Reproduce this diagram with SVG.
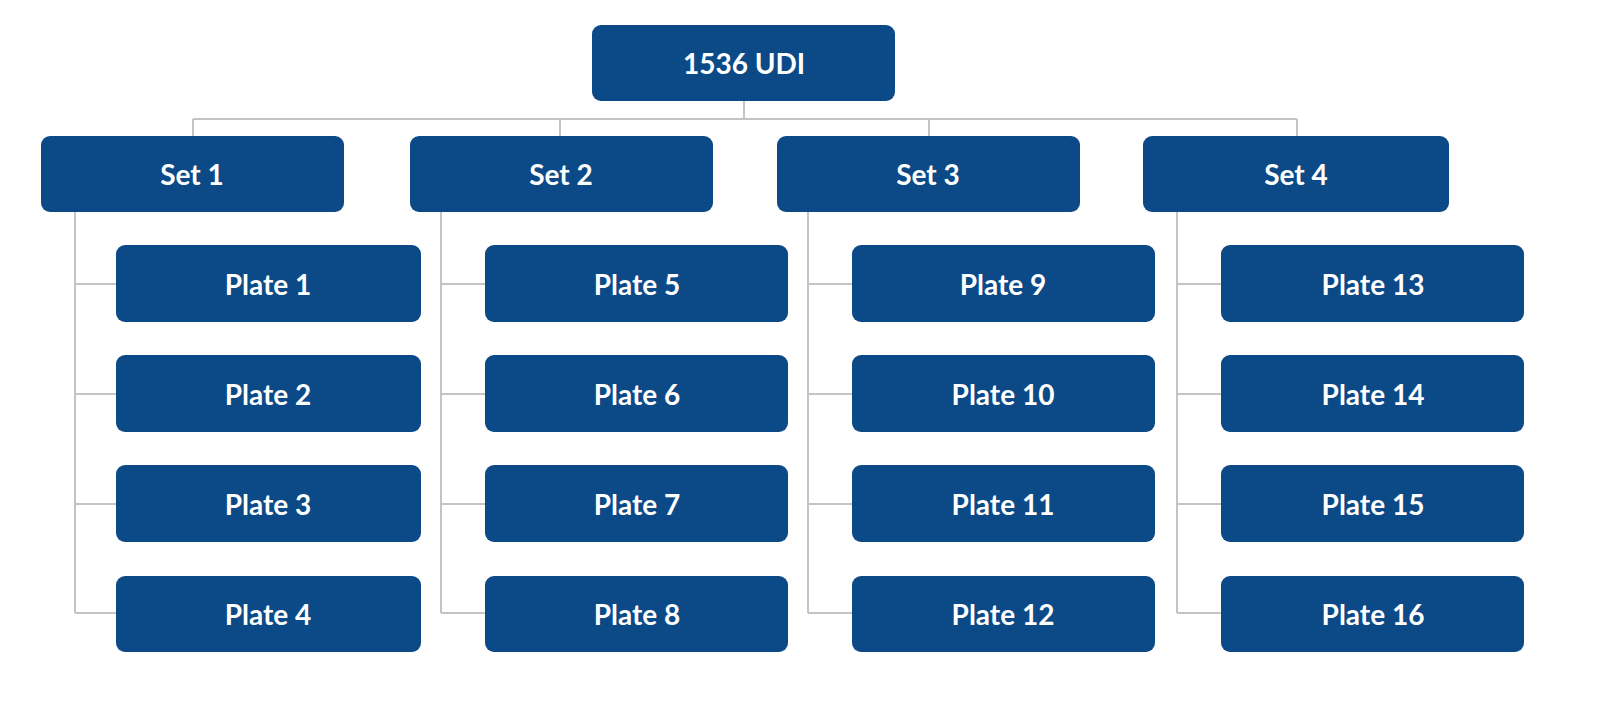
<svg xmlns="http://www.w3.org/2000/svg" width="1600" height="710" viewBox="0 0 1600 710">
<style>
.n{fill:#0c4a87}
.t{fill:#fff;font-family:Lato,"Open Sans",sans-serif;font-weight:700;font-size:28px;text-anchor:middle;dominant-baseline:central}
.c{stroke:#c4c4c4;stroke-width:2;fill:none}
</style>
<rect width="1600" height="710" fill="#fff"/>
<g id="connectors" class="c">
<path d="M744 101V119M193 119H1297M193 119V136M560 119V136M929 119V136M1297 119V136"/>
<path d="M75 212V613M75 284H116M75 394H116M75 504H116M75 613H116"/>
<path d="M441 212V613M441 284H485M441 394H485M441 504H485M441 613H485"/>
<path d="M808 212V613M808 284H852M808 394H852M808 504H852M808 613H852"/>
<path d="M1177 212V613M1177 284H1221M1177 394H1221M1177 504H1221M1177 613H1221"/>
</g>
<g id="root"><rect class="n" x="592" y="25" width="303" height="76" rx="9"/><text class="t" x="744" y="63">1536 UDI</text></g>
<g id="set1"><rect class="n" x="41" y="136" width="303" height="76" rx="9"/><text class="t" x="192" y="174">Set 1</text></g>
<g id="set2"><rect class="n" x="410" y="136" width="303" height="76" rx="9"/><text class="t" x="561" y="174">Set 2</text></g>
<g id="set3"><rect class="n" x="777" y="136" width="303" height="76" rx="9"/><text class="t" x="928" y="174">Set 3</text></g>
<g id="set4"><rect class="n" x="1143" y="136" width="306" height="76" rx="9"/><text class="t" x="1296" y="174">Set 4</text></g>
<g id="plate1"><rect class="n" x="116" y="245" width="305" height="77" rx="9"/><text class="t" x="268" y="284">Plate 1</text></g>
<g id="plate2"><rect class="n" x="116" y="355" width="305" height="77" rx="9"/><text class="t" x="268" y="394">Plate 2</text></g>
<g id="plate3"><rect class="n" x="116" y="465" width="305" height="77" rx="9"/><text class="t" x="268" y="504">Plate 3</text></g>
<g id="plate4"><rect class="n" x="116" y="576" width="305" height="76" rx="9"/><text class="t" x="268" y="614">Plate 4</text></g>
<g id="plate5"><rect class="n" x="485" y="245" width="303" height="77" rx="9"/><text class="t" x="637" y="284">Plate 5</text></g>
<g id="plate6"><rect class="n" x="485" y="355" width="303" height="77" rx="9"/><text class="t" x="637" y="394">Plate 6</text></g>
<g id="plate7"><rect class="n" x="485" y="465" width="303" height="77" rx="9"/><text class="t" x="637" y="504">Plate 7</text></g>
<g id="plate8"><rect class="n" x="485" y="576" width="303" height="76" rx="9"/><text class="t" x="637" y="614">Plate 8</text></g>
<g id="plate9"><rect class="n" x="852" y="245" width="303" height="77" rx="9"/><text class="t" x="1003" y="284">Plate 9</text></g>
<g id="plate10"><rect class="n" x="852" y="355" width="303" height="77" rx="9"/><text class="t" x="1003" y="394">Plate 10</text></g>
<g id="plate11"><rect class="n" x="852" y="465" width="303" height="77" rx="9"/><text class="t" x="1003" y="504">Plate 11</text></g>
<g id="plate12"><rect class="n" x="852" y="576" width="303" height="76" rx="9"/><text class="t" x="1003" y="614">Plate 12</text></g>
<g id="plate13"><rect class="n" x="1221" y="245" width="303" height="77" rx="9"/><text class="t" x="1373" y="284">Plate 13</text></g>
<g id="plate14"><rect class="n" x="1221" y="355" width="303" height="77" rx="9"/><text class="t" x="1373" y="394">Plate 14</text></g>
<g id="plate15"><rect class="n" x="1221" y="465" width="303" height="77" rx="9"/><text class="t" x="1373" y="504">Plate 15</text></g>
<g id="plate16"><rect class="n" x="1221" y="576" width="303" height="76" rx="9"/><text class="t" x="1373" y="614">Plate 16</text></g>
</svg>
